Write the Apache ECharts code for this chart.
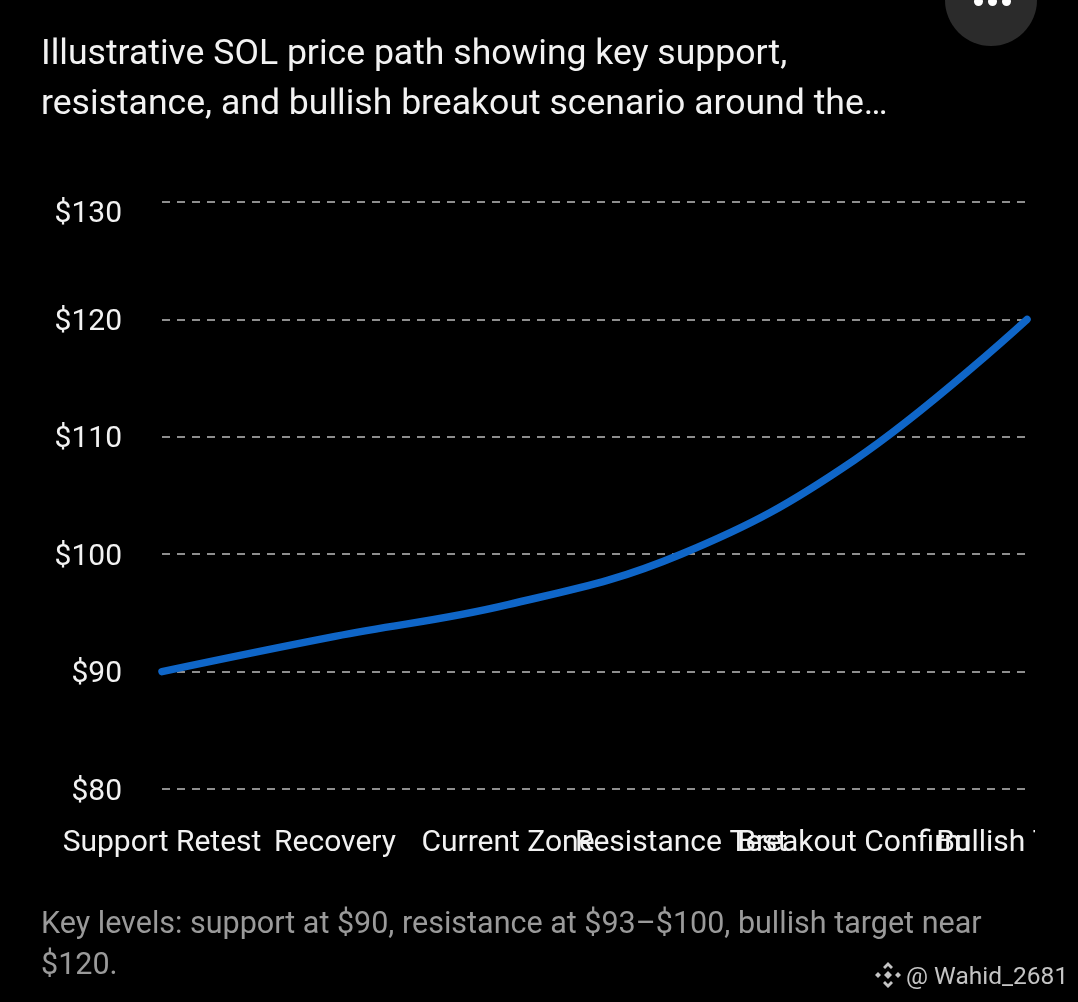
<!DOCTYPE html>
<html>
<head>
<meta charset="utf-8">
<style>
html,body{margin:0;padding:0;background:#000;width:1078px;height:1002px;overflow:hidden;font-family:Roboto,sans-serif}
#chart{position:absolute;left:0;top:0;width:1035px;height:1002px}
#menu{position:absolute;left:945px;top:-46px;width:92px;height:92px;border-radius:50%;background:#2b2b2b}
.dot{position:absolute;top:43px;width:9px;height:9px;border-radius:50%;background:#fff}
#mark{position:absolute;left:874px;top:961px;height:28px;display:flex;align-items:center;color:#c4c4c4;font-size:24.5px;white-space:nowrap}
</style>
<script src="https://cdn.jsdelivr.net/npm/echarts@6/dist/echarts.min.js"></script>
</head>
<body>
<div id="chart"></div>
<div id="menu"><div class="dot" style="left:29px"></div><div class="dot" style="left:43px"></div><div class="dot" style="left:57px"></div></div>
<div id="mark"><svg width="28" height="28" viewBox="0 0 28 28" style="margin-right:4px"><g fill="#c4c4c4"><path d="M14 1l5 5-2 2-3-3-3 3-2-2z"/><path d="M14 27l5-5-2-2-3 3-3-3-2 2z"/><path d="M14 10l4 4-4 4-4-4z"/><path d="M4 11l3 3-3 3-3-3z"/><path d="M24 11l3 3-3 3-3-3z"/></g></svg><span>@ Wahid_2681</span></div>
<script>
var categories = ['Support Retest', 'Recovery', 'Current Zone', 'Resistance Test', 'Breakout Confirm', 'Bullish Target'];
var prices = [90, 93, 95.7, 100, 108, 120];
var yTicks = { min: 80, max: 130, interval: 10 };
var titleLines = 'Illustrative SOL price path showing key support,\nresistance, and bullish breakout scenario around the…';
var footnote = 'Key levels: support at $90, resistance at $93–$100, bullish target near\n$120.';

var chart = echarts.init(document.getElementById('chart'), null, { renderer: 'canvas' });
chart.setOption({
  backgroundColor: '#000',
  animation: false,
  title: [
    { text: titleLines, left: 41, top: 30, padding: 0, textStyle: { color: '#f2f2f2', fontFamily: 'Roboto', fontSize: 35.6, fontWeight: 400, lineHeight: 50 } },
    { text: footnote, left: 41, top: 905, padding: 0, textStyle: { color: '#9a9a9a', fontFamily: 'Roboto', fontSize: 30.5, fontWeight: 400, lineHeight: 41 } }
  ],
  grid: { left: 162, right: 8, top: 202, height: 587, outerBoundsMode: 'none' },
  xAxis: {
    type: 'category',
    data: categories,
    boundaryGap: false,
    axisLine: { show: false },
    axisTick: { show: false },
    splitLine: { show: false },
    axisLabel: { color: '#f2f2f2', fontFamily: 'Roboto', fontSize: 30, margin: 39, interval: 0, hideOverlap: false, showMinLabel: true, showMaxLabel: true, alignMinLabel: 'center', alignMaxLabel: 'center' }
  },
  yAxis: {
    type: 'value',
    min: yTicks.min,
    max: yTicks.max,
    interval: yTicks.interval,
    axisLine: { show: false },
    axisTick: { show: false },
    axisLabel: {
      margin: 40,
      verticalAlign: 'top',
      formatter: function (v) { return (v === yTicks.max ? '{top|$' : '{rest|$') + v + '}'; },
      rich: {
        top: { color: '#f2f2f2', fontFamily: 'Roboto', fontSize: 30, lineHeight: 24 },
        rest: { color: '#f2f2f2', fontFamily: 'Roboto', fontSize: 30, lineHeight: 6 }
      }
    },
    splitLine: { lineStyle: { color: '#8e8e8e', width: 2, type: [8, 7] } }
  },
  series: [{
    type: 'line',
    data: prices,
    smooth: 0.4,
    showSymbol: false,
    lineStyle: { color: '#0f66c8', width: 7.5, cap: 'round' }
  }]
});
</script>
</body>
</html>
